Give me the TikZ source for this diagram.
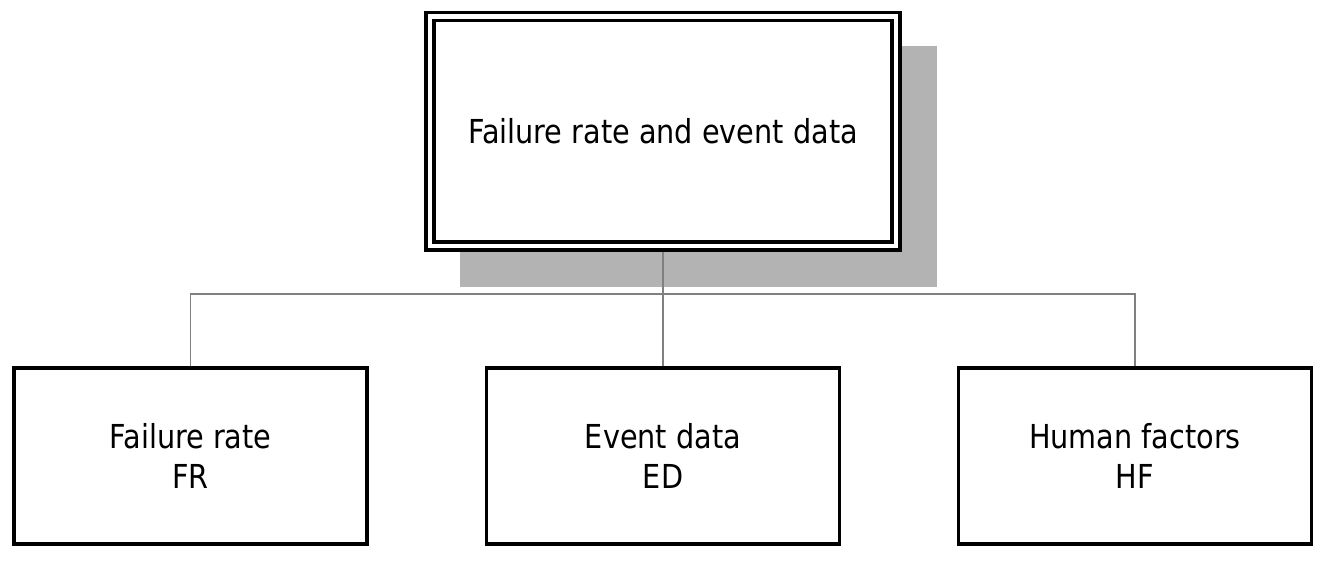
\documentclass[tikz,border=0pt]{standalone}
\usepackage{fontspec}
\setmainfont{DejaVu Sans}[FakeStretch=0.87]
\pgfdeclarelayer{bg}
\pgfdeclarelayer{mid}
\pgfsetlayers{bg,mid,main}
\definecolor{shadowgray}{HTML}{B3B3B3}
\definecolor{linkgray}{HTML}{808080}
\tikzset{
  boxtext/.style={font=\fontsize{33}{40}\selectfont, align=center, inner sep=0pt, outer sep=0pt},
  childbox/.style={boxtext, draw=black, fill=white, line width=3.8pt, minimum width=353pt, minimum height=176pt},
  topbox/.style={boxtext, draw=black, fill=white, line width=3.6pt, double=white, double distance=4.6pt, minimum width=466pt, minimum height=229.5pt},
  link/.style={draw=linkgray, line width=1.2pt},
  shadowbox/.style={fill=shadowgray, draw=none}
}
\begin{document}
\begin{tikzpicture}[x=1pt,y=-1pt]
\useasboundingbox (0,0) rectangle (1320,569);
\node[topbox] (top) at (663,131.25) {Failure rate and event data};
\node[childbox] (fr) at (190.5,456) {Failure rate\\FR};
\node[childbox] (ed) at (663,456) {Event data\\ED};
\node[childbox] (hf) at (1135,456) {Human factors\\HF};
\coordinate (bus) at (663,294);
\begin{pgfonlayer}{bg}
  \fill[shadowgray] (460,46) rectangle (937,287);
\end{pgfonlayer}
\begin{pgfonlayer}{mid}
  \draw[link] (top.south) -- (ed.north);
  \draw[link] (fr.north) |- (bus) -| (hf.north);
\end{pgfonlayer}
\end{tikzpicture}
\end{document}
